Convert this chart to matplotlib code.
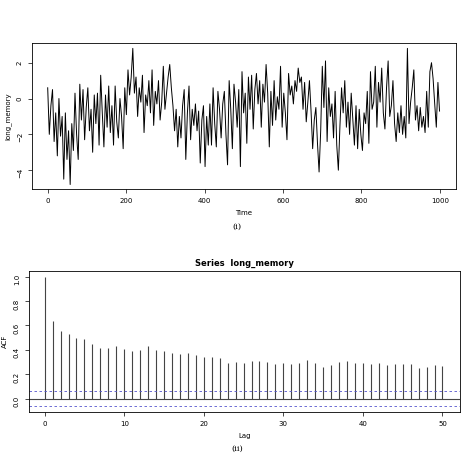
import numpy as np
from matplotlib import pyplot as plt

# time series, every 4 steps
series = [0.6, -2.0, -0.4, 0.5, -2.4, -0.8, -3.2, 0.0, -2.1, -1.0,
          -4.5, -0.8, -3.4, -1.8, -4.8, -1.4, -2.9, 0.3, -2.0, -3.4,
          0.8, -1.2, 0.5, -2.3, -0.5, 0.6, -1.8, -0.6, -3.0, 0.2,
          -1.4, 0.3, -2.6, 1.3, -0.8, -2.7, 0.2, -1.6, 0.7, -1.9,
          -0.4, -2.6, 0.7, -1.3, -2.2, 0.0, -1.0, -2.8, 0.6, -0.9,
          1.6, 0.2, 1.2, 2.8, 0.3, 1.2, -1.0, 0.6, -0.2, 1.3,
          -1.9, 0.2, -0.4, 1.0, -0.8, 1.6, -1.5, 0.4, -0.3, 1.0,
          -1.2, -0.2, 1.8, -0.6, 0.3, 1.2, 1.9, 0.6, -0.4, -1.8,
          -0.6, -2.7, -1.0, -2.2, -0.4, 0.5, -3.4, -0.8, 0.7, -2.3,
          -0.6, -1.5, -0.3, -1.8, -0.7, -3.6, -1.2, -0.4, -3.8, -1.0,
          -2.6, -0.3, -2.6, 0.6, -1.4, -2.7, 0.4, -0.6, -2.2, -0.3,
          0.4, -2.0, -3.7, 1.0, -0.6, -2.8, 0.8, -0.2, -1.6, 0.5,
          -3.8, 1.5, -0.8, 0.3, -2.5, 1.2, -0.6, 1.3, -1.7, 0.5,
          1.4, -0.3, 1.0, -1.6, 0.8, -0.2, 1.9, 0.3, -2.7, 0.4,
          -1.5, 1.0, -1.2, 0.1, -0.6, 1.8, -1.6, 0.3, -0.8, -2.3,
          1.4, 0.2, 0.7, -0.3, 1.0, 0.4, 1.7, 0.9, 1.2, -0.6,
          0.9, -1.3, -0.2, 1.0, -0.7, -2.8, -1.2, -0.5, -2.5, -4.1,
          -1.8, 1.8, -0.5, 2.1, -2.4, 0.6, -1.0, -0.3, -2.2, 0.4,
          -2.6, -4.0]
series += [-1.5, 0.6, -0.8, 1.0, -1.6, -0.2, -2.0, 0.3, -1.2, -2.6,
           -0.4, -2.8, -0.6, -2.0, -2.9, -0.8, -1.4, 0.4, -2.5, 1.5,
           -0.6, -0.2, 1.8, -1.6, 0.9, -0.2, 1.7, -0.8, -1.7, 0.6,
           2.1, -1.0, -0.4, 1.0, -1.4, -2.4, -0.8, -1.9, -0.4, -2.0,
           -1.0, -2.2, 2.8, -1.4, -0.2, 0.6, 1.6, -1.2, -0.4, -1.8,
           -0.5, -1.6, -1.0, -1.9, 0.4, -1.6, 1.5, 2.0, 1.1, -0.3,
           -1.6, 0.9, -0.7]
time = np.linspace(0, 999, len(series))

lags = np.arange(51)
acf = [1.0, 0.64, 0.55, 0.53, 0.50, 0.49, 0.445, 0.415, 0.415, 0.435,
       0.41, 0.39, 0.40, 0.43, 0.395, 0.39, 0.375, 0.365, 0.375, 0.36,
       0.34, 0.345, 0.33, 0.29, 0.30, 0.29, 0.31, 0.305, 0.30, 0.28,
       0.295, 0.285, 0.29, 0.315, 0.29, 0.26, 0.275, 0.30, 0.305, 0.295,
       0.29, 0.285, 0.29, 0.275, 0.285, 0.285, 0.285, 0.25, 0.26, 0.275,
       0.265]
ci = 0.062

fig = plt.figure(figsize=(4.74, 4.74), dpi=100)
plt.rcParams['font.size'] = 5

# (i) the series
ax1 = fig.add_axes([32/474, 1-189/474, 424/474, 146/474])
ax1.plot(time, series, color='black', lw=0.7)
ax1.set_xlim(-40, 1041)
ax1.set_ylim(-5.05, 3.1)
ax1.set_xticks([0, 200, 400, 600, 800, 1000])
ax1.set_yticks([-4, -2, 0, 2])
ax1.tick_params(axis='y', labelrotation=90, length=3, width=0.5)
ax1.tick_params(axis='x', length=3, width=0.5)
ax1.set_xlabel('Time', fontsize=5)
ax1.set_ylabel('long_memory', fontsize=5)
for s in ax1.spines.values():
    s.set_linewidth(0.6)
fig.text(0.5, 1-229/474, '(i)', ha='center', fontsize=6, family='serif')

# (ii) ACF
ax2 = fig.add_axes([29/474, 1-412/474, 431/474, 141/474])
ax2.vlines(lags, 0, acf, color='#444444', lw=0.8)
ax2.axhline(0, color='#444444', lw=0.8)
ax2.axhline(ci, color='#5555cc', lw=0.6, ls=(0, (3, 3)))
ax2.axhline(-ci, color='#5555cc', lw=0.6, ls=(0, (3, 3)))
ax2.set_xlim(-1.97, 52.2)
ax2.set_ylim(-0.11, 1.046)
ax2.set_xticks([0, 10, 20, 30, 40, 50])
ax2.set_yticks([0.0, 0.2, 0.4, 0.6, 0.8, 1.0])
ax2.set_yticklabels(['0.0', '0.2', '0.4', '0.6', '0.8', '1.0'])
ax2.tick_params(axis='y', labelrotation=90, length=3, width=0.5)
ax2.tick_params(axis='x', length=3, width=0.5)
ax2.set_xlabel('Lag', fontsize=5)
ax2.set_ylabel('ACF', fontsize=5)
ax2.set_title('Series  long_memory', fontsize=6, fontweight='bold', pad=4)
for s in ax2.spines.values():
    s.set_linewidth(0.6)
fig.text(0.5, 1-451/474, '(ii)', ha='center', fontsize=6, family='serif')

fig.savefig('out.png', dpi=100)
